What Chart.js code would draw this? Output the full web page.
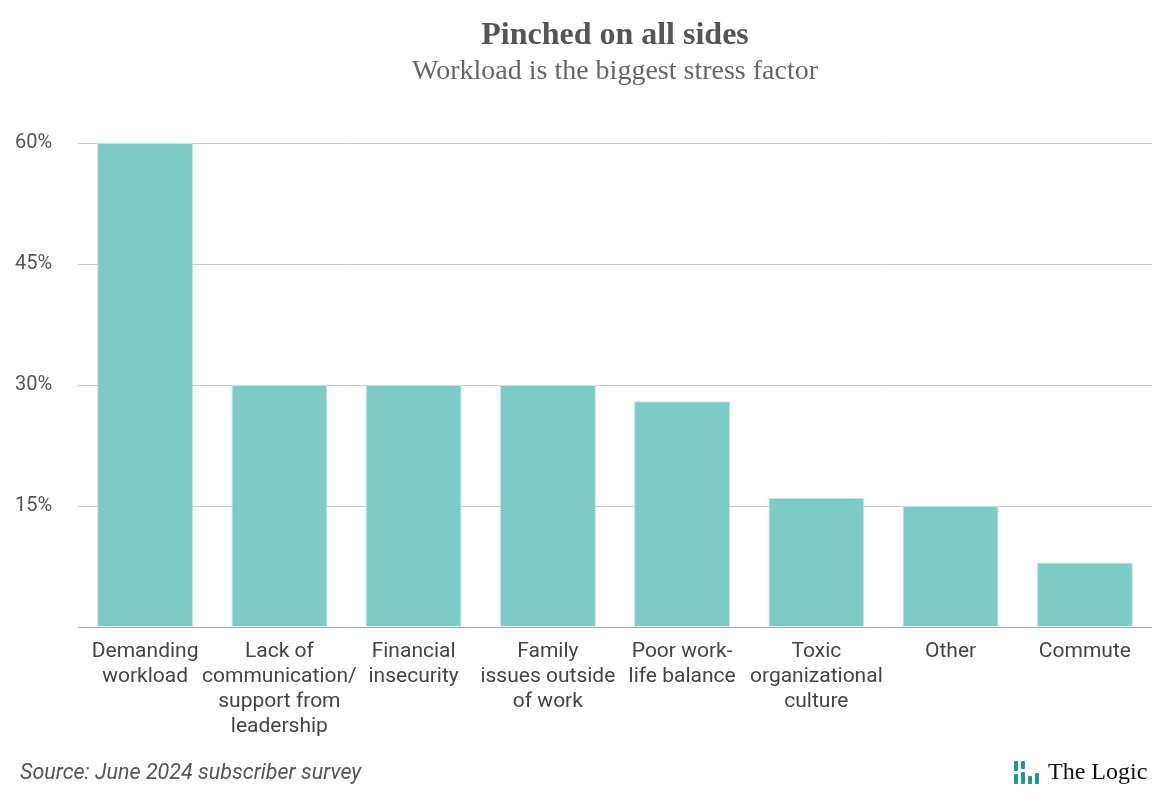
<!DOCTYPE html>
<html lang="en">
<head>
    <meta charset="UTF-8">
    <title>Pinched on all sides</title>
    <script src="https://cdn.jsdelivr.net/npm/chart.js"></script>
    <style>
        body { margin: 0; background: #fff; }
        #wrap { position: relative; width: 1166px; height: 808px; }
        #head { position: absolute; left: 64px; width: 1102px; top: 14px; text-align: center; font-family: "Liberation Serif", serif; }
        #head .t { font-size: 32px; font-weight: bold; color: #555; line-height: 38px; }
        #head .s { font-size: 28px; color: #666; line-height: 36px; }
        #source { position: absolute; left: 20px; top: 759px; font: italic 21.5px Roboto, sans-serif; color: #555; }
        #logo { position: absolute; left: 1014px; top: 759px; height: 28px; }
        #logo .bar { position: absolute; width: 4px; background: #1a9a8f; border-radius: 1px; }
        #logo .name { position: absolute; left: 34px; top: -1px; font: 24px "Liberation Serif", serif; color: #111; white-space: nowrap; }
    </style>
</head>
<body>
<div id="wrap">
    <canvas id="chart" width="1166" height="808"></canvas>
    <div id="head">
        <div class="t">Pinched on all sides</div>
        <div class="s">Workload is the biggest stress factor</div>
    </div>
    <div id="source">Source: June 2024 subscriber survey</div>
    <div id="logo">
        <span class="bar" style="left:0;top:2px;height:10px"></span>
        <span class="bar" style="left:0;top:15px;height:10px"></span>
        <span class="bar" style="left:7px;top:2px;height:8px"></span>
        <span class="bar" style="left:7px;top:13px;height:12px"></span>
        <span class="bar" style="left:14px;top:17px;height:8px"></span>
        <span class="bar" style="left:21px;top:14px;height:11px"></span>
        <span class="name">The Logic</span>
    </div>
</div>
<script>
    // Data
    const categories = [
        ['Demanding', 'workload'],
        ['Lack of', 'communication/', 'support from', 'leadership'],
        ['Financial', 'insecurity'],
        ['Family', 'issues outside', 'of work'],
        ['Poor work-', 'life balance'],
        ['Toxic', 'organizational', 'culture'],
        ['Other'],
        ['Commute']
    ];
    const shares = [60, 30, 30, 30, 28, 16, 15, 8];
    const yTicks = [0, 15, 30, 45, 60];

    const ctx = document.getElementById('chart').getContext('2d');
    new Chart(ctx, {
        type: 'bar',
        data: {
            labels: categories,
            datasets: [{
                data: shares,
                backgroundColor: '#7ecbc6',
                borderColor: '#bfe7e3',
                borderWidth: 1,
                barPercentage: 0.715,
                categoryPercentage: 1
            }]
        },
        options: {
            responsive: false,
            animation: false,
            layout: { padding: { left: 15, right: 14, top: 143, bottom: 60 } },
            plugins: {
                legend: { display: false },
                tooltip: { enabled: false }
            },
            scales: {
                x: {
                    grid: { display: false },
                    border: { display: false },
                    ticks: {
                        color: '#444',
                        font: { family: 'Roboto, sans-serif', size: 21, lineHeight: 1.2 },
                        maxRotation: 0,
                        autoSkip: false,
                        padding: 4
                    },
                    afterFit: s => { s.height = 121; }
                },
                y: {
                    min: 0,
                    max: 60,
                    afterBuildTicks: s => { s.ticks = yTicks.map(v => ({ value: v })); },
                    grid: {
                        color: c => c.tick && c.tick.value === 0 ? '#aaa' : '#ccc',
                        lineWidth: 1,
                        drawTicks: false
                    },
                    border: { display: false },
                    ticks: {
                        color: '#555',
                        font: { family: 'Roboto, sans-serif', size: 20 },
                        crossAlign: 'far',
                        padding: 0,
                        callback: v => v === 0 ? '' : v + '%'
                    },
                    afterFit: s => { s.width = 63; }
                }
            }
        }
    });
</script>
</body>
</html>
